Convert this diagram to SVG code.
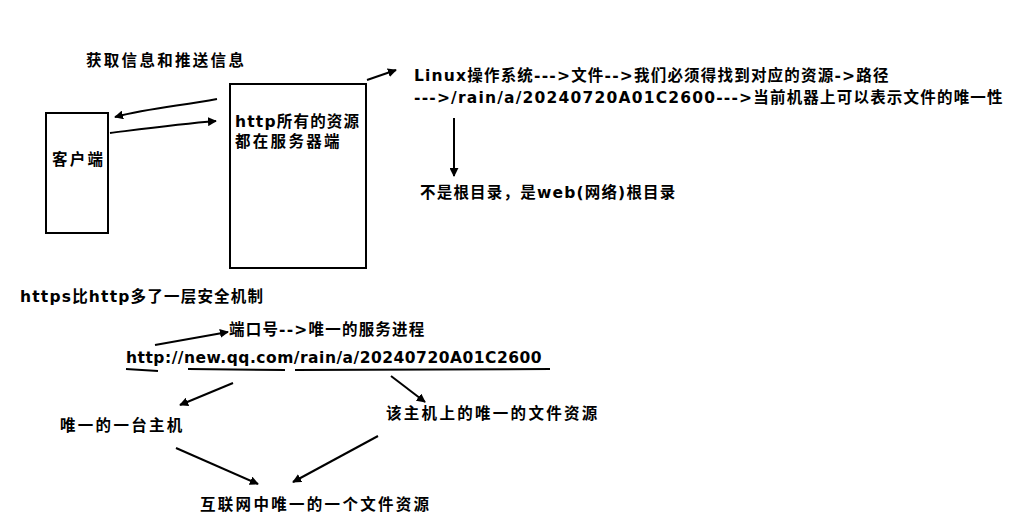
<svg xmlns="http://www.w3.org/2000/svg" width="1016" height="532" viewBox="0 0 1016 532">
<defs>
<style>
text{font-family:"DejaVu Sans","Noto Sans CJK SC",sans-serif;font-weight:bold;font-size:15.5px;fill:#000}
.z{letter-spacing:2.3px}
.x{letter-spacing:1.2px}
.u{letter-spacing:0.5px}
.b{fill:#fff;stroke:#000;stroke-width:2}
.c{fill:none;stroke:#000;stroke-width:2}
.a{fill:none;stroke:#000;stroke-width:2;marker-end:url(#m)}
</style>
<marker id="m" viewBox="0 0 10 10" refX="9" refY="5" markerWidth="9" markerHeight="9" markerUnits="userSpaceOnUse" orient="auto"><path d="M0,0 L10,5 L0,10 z" fill="#000"/></marker>
</defs>
<rect width="1016" height="532" fill="#fff"/>
<g id="client"><rect class="b" x="46" y="113" width="62" height="120"/><text class="z" x="52" y="165">客户端</text></g>
<g id="server"><rect class="b" x="230" y="84" width="136" height="184"/><text class="x" x="235" y="127">http所有的资源</text><text class="z" x="235" y="147">都在服务器端</text></g>
<g id="labels">
<text class="z" x="86" y="66">获取信息和推送信息</text>
<text class="x" x="414" y="81">Linux操作系统---&gt;文件--&gt;我们必须得找到对应的资源-&gt;路径</text>
<text class="x" x="414" y="103">---&gt;/rain/a/20240720A01C2600---&gt;当前机器上可以表示文件的唯一性</text>
<text class="x" x="420" y="198">不是根目录，是web(网络)根目录</text>
<text class="x" x="20" y="302">https比http多了一层安全机制</text>
<text class="x" x="229" y="335">端口号--&gt;唯一的服务进程</text>
<text class="u" x="126" y="363">http://new.qq.com/rain/a/20240720A01C2600</text>
<text class="z" x="60" y="431">唯一的一台主机</text>
<text class="z" x="386" y="419">该主机上的唯一的文件资源</text>
<text class="z" x="200" y="510">互联网中唯一的一个文件资源</text>
</g>
<g id="connectors">
<path class="a" d="M217,99 C180,106 150,108 115,117"/>
<path class="a" d="M110,133 C150,128 180,124 216,121"/>
<path class="a" d="M367,80 L396,70"/>
<path class="a" d="M454,118 L454,176"/>
<path class="c" d="M126,369 L158,371"/>
<path class="c" d="M188,369 L285,370"/>
<path class="c" d="M295,370 L550,369"/>
<path class="a" d="M155,345 L228,332"/>
<path class="a" d="M233,383 L180,405"/>
<path class="a" d="M391,376 L425,402"/>
<path class="a" d="M176,448 L258,484"/>
<path class="a" d="M378,436 L293,482"/>
</g>
</svg>
